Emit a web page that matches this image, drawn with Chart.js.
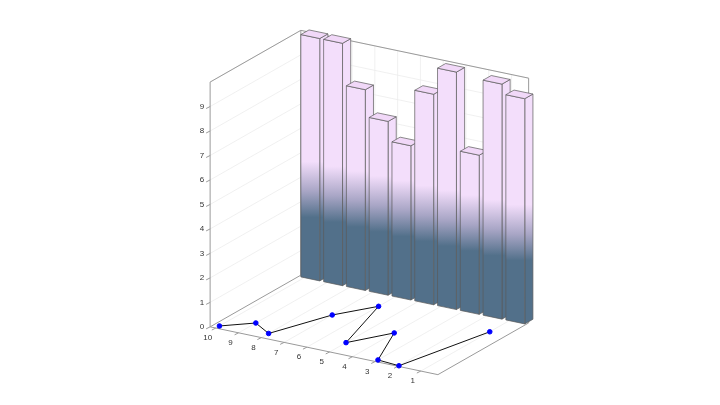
<!DOCTYPE html>
<html>
<head>
<meta charset="utf-8">
<script src="https://cdn.jsdelivr.net/npm/chart.js@4"></script>
<style>
html, body { margin: 0; padding: 0; background: #fff; }
#wrap { width: 720px; height: 405px; }
</style>
</head>
<body>
<div id="wrap"><canvas id="chart3d"></canvas></div>
<script>
// data
const xValues = [1, 2, 3, 4, 5, 6, 7, 8, 9, 10];
const barHeights = [9.2, 9.6, 6.5, 9.7, 8.6, 6.3, 7.1, 8.2, 9.9, 9.9];
const lineDepth = [0.76, 0.01, 0.03, 0.46, 0.18, 0.79, 0.53, 0.08, 0.19, 0.04];
const zTicks = [0, 1, 2, 3, 4, 5, 6, 7, 8, 9];
const xTickLabels = ['1', '2', '3', '4', '5', '6', '7', '8', '9', '10'];

// simple fixed 3d view
function pos(x) { return 10.55 - x; }
function floorPos(x) { return 10.25 - x; }
function proj(a, d, z) {
    return { x: 208 + 23.1 * a + 92 * d, y: 330 + 4.9 * a - 53 * d - 25.1 * z };
}

const pointData = xValues.map((x, i) => proj(floorPos(x), lineDepth[i], 0));

const box3d = {
    id: 'box3d',
    beforeDatasetsDraw(chart) {
        const ctx = chart.ctx;
        const sx = chart.scales.x, sy = chart.scales.y;
        const P = (a, d, z) => {
            const p = proj(a, d, z);
            return [sx.getPixelForValue(p.x), sy.getPixelForValue(p.y)];
        };
        const line = (p, q, color, w) => {
            ctx.beginPath();
            ctx.moveTo(p[0], p[1]);
            ctx.lineTo(q[0], q[1]);
            ctx.strokeStyle = color;
            ctx.lineWidth = w;
            ctx.stroke();
        };
        const poly = (pts, fill) => {
            ctx.beginPath();
            ctx.moveTo(pts[0][0], pts[0][1]);
            pts.slice(1).forEach(p => ctx.lineTo(p[0], p[1]));
            ctx.closePath();
            ctx.fillStyle = fill;
            ctx.fill();
            ctx.strokeStyle = '#5a5a5a';
            ctx.lineWidth = 0.7;
            ctx.stroke();
        };
        ctx.save();
        const grid = '#ececec';
        // grids
        for (let z = 1; z <= 10; z++) {
            line(P(0, 0, z), P(0, 1, z), grid, 0.8);
            line(P(0, 1, z), P(10, 1, z), grid, 0.8);
        }
        xValues.forEach(x => {
            const a = floorPos(x);
            line(P(a, 0, 0), P(a, 1, 0), grid, 0.8);
            line(P(a, 1, 0), P(a, 1, 10), grid, 0.8);
        });
        // box edges
        const edge = '#9a9a9a';
        line(P(0, 0, 0), P(0, 0, 10), edge, 1);
        line(P(0, 0, 10), P(0, 1, 10), edge, 1);
        line(P(0, 1, 10), P(10, 1, 10), edge, 1);
        line(P(10, 1, 10), P(10, 1, 0), edge, 1);
        line(P(0, 0, 0), P(10, 0, 0), edge, 1);
        line(P(10, 0, 0), P(10, 1, 0), edge, 1);
        line(P(0, 0, 0), P(0, 1, 0), edge, 1);
        line(P(0, 1, 0), P(0, 1, 10), edge, 1);

        // ticks and labels
        ctx.font = '8px "Liberation Sans", Arial, sans-serif';
        ctx.fillStyle = '#333';
        ctx.textAlign = 'right';
        ctx.textBaseline = 'middle';
        zTicks.forEach(z => {
            const p = P(0, 0, z);
            line(p, [p[0] - 4, p[1] + 2], edge, 1);
            ctx.fillText(String(z), p[0] - 6, p[1]);
        });
        ctx.textAlign = 'center';
        xValues.forEach((x, i) => {
            const p = P(floorPos(x), 0, 0);
            line(p, [p[0] - 4, p[1] + 2], edge, 1);
            ctx.fillText(xTickLabels[i], p[0] - 8, p[1] + 10);
        });

        // bars, far to near
        const order = xValues.map((x, i) => i).sort((i, j) => pos(xValues[i]) - pos(xValues[j]));
        order.forEach(i => {
            const ac = pos(xValues[i]);
            const h = barHeights[i];
            const a0 = ac - 0.45, a1 = ac + 0.38, d0 = 0.975, d1 = 1.065;
            const g0 = P(ac, d0, 0), g1 = P(ac, d0, 6);
            const grad = ctx.createLinearGradient(g0[0], g0[1], g1[0], g1[1]);
            grad.addColorStop(0, '#52708a');
            grad.addColorStop(0.42, '#52708a');
            grad.addColorStop(0.6, '#a9a6c6');
            grad.addColorStop(0.8, '#f3defb');
            grad.addColorStop(1, '#f3defb');
            poly([P(a1, d0, 0), P(a1, d1, 0), P(a1, d1, h), P(a1, d0, h)], grad);
            poly([P(a0, d0, 0), P(a1, d0, 0), P(a1, d0, h), P(a0, d0, h)], grad);
            poly([P(a0, d0, h), P(a1, d0, h), P(a1, d1, h), P(a0, d1, h)], '#f1d8f8');
        });
        ctx.restore();
    }
};

new Chart(document.getElementById('chart3d').getContext('2d'), {
    type: 'scatter',
    data: {
        datasets: [{
            data: pointData,
            showLine: true,
            borderColor: '#111',
            borderWidth: 1,
            pointBackgroundColor: '#0000ff',
            pointBorderColor: '#0000ff',
            pointRadius: 2.3
        }]
    },
    options: {
        responsive: true,
        maintainAspectRatio: false,
        animation: false,
        layout: { padding: 0 },
        scales: {
            x: { display: false, min: 0, max: 720 },
            y: { display: false, min: 0, max: 405, reverse: true }
        },
        plugins: {
            legend: { display: false },
            tooltip: { enabled: false }
        }
    },
    plugins: [box3d]
});
</script>
</body>
</html>
